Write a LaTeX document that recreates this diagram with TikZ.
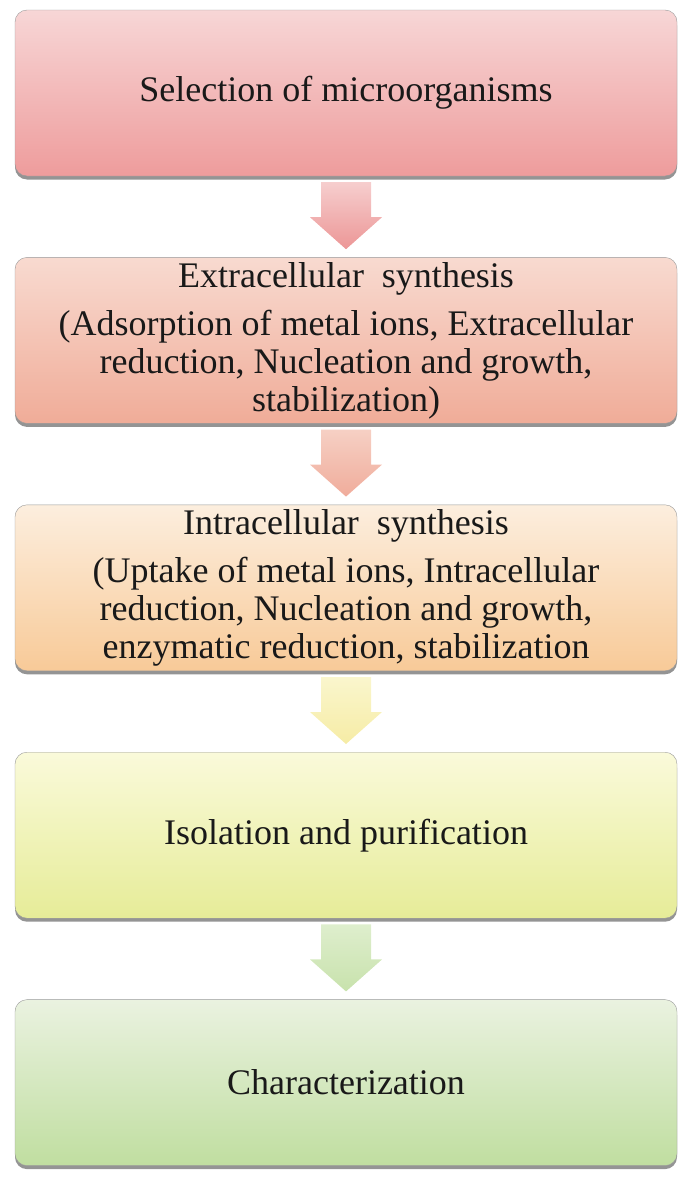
\documentclass[tikz,border=0pt]{standalone}
\usepackage{fontspec}
\setmainfont{Liberation Serif}
\usetikzlibrary{positioning}
\usetikzlibrary{calc}
\usetikzlibrary{shadows}

\definecolor{selTop}{RGB}{247,214,214}
\definecolor{selBot}{RGB}{238,156,156}
\definecolor{extTop}{RGB}{248,218,208}
\definecolor{extBot}{RGB}{240,172,152}
\definecolor{intTop}{RGB}{252,238,222}
\definecolor{intBot}{RGB}{248,202,152}
\definecolor{isoTop}{RGB}{250,250,218}
\definecolor{isoBot}{RGB}{230,236,152}
\definecolor{chaTop}{RGB}{234,242,224}
\definecolor{chaBot}{RGB}{192,222,160}

\tikzset{
  mystep/.style={
    draw=black!40,
    shape=rectangle,
    rounded corners=12pt,
    align=center,
    minimum width=662pt,
    minimum height=166pt,
    inner sep=4pt,
    text=black!90,
    font=\fontsize{36}{38}\selectfont,
    drop shadow={shadow xshift=0pt, shadow yshift=-3.5pt, opacity=0.6, fill=black!70},
  },
  myarrow/.style={
    draw=none,
  },
}

\begin{document}
\begin{tikzpicture}[x=1pt, y=-1pt]
    \useasboundingbox (0,0) rectangle (685,1183);

    \node[mystep, top color=selTop, bottom color=selBot] (selection) at (346,93) {Selection of microorganisms};
    \node[mystep, top color=extTop, bottom color=extBot] (extracellular) [below=81pt of selection] {Extracellular\ \ synthesis\\[10pt](Adsorption of metal ions, Extracellular\\reduction, Nucleation and growth,\\stabilization)};
    \node[mystep, top color=intTop, bottom color=intBot] (intracellular) [below=81pt of extracellular] {Intracellular\ \ synthesis\\[10pt](Uptake of metal ions, Intracellular\\reduction, Nucleation and growth,\\enzymatic reduction, stabilization};
    \node[mystep, top color=isoTop, bottom color=isoBot] (isolation) [below=81pt of intracellular] {Isolation and purification};
    \node[mystep, top color=chaTop, bottom color=chaBot] (characterization) [below=81pt of isolation] {Characterization};

    % block arrows between the steps
    \shade[myarrow, top color={rgb,255:red,246;green,206;blue,206}, bottom color={rgb,255:red,236;green,150;blue,150}]
      ($(selection.south)+(-25,6)$) -- ($(selection.south)+(25,6)$) -- ($(extracellular.north)+(25,-40)$) -- ($(extracellular.north)+(36,-40)$)
      -- ($(extracellular.north)+(0,-8)$) -- ($(extracellular.north)+(-36,-40)$) -- ($(extracellular.north)+(-25,-40)$) -- cycle;
    \shade[myarrow, top color={rgb,255:red,246;green,208;blue,196}, bottom color={rgb,255:red,240;green,172;blue,155}]
      ($(extracellular.south)+(-25,6)$) -- ($(extracellular.south)+(25,6)$) -- ($(intracellular.north)+(25,-40)$) -- ($(intracellular.north)+(36,-40)$)
      -- ($(intracellular.north)+(0,-8)$) -- ($(intracellular.north)+(-36,-40)$) -- ($(intracellular.north)+(-25,-40)$) -- cycle;
    \shade[myarrow, top color={rgb,255:red,250;green,246;blue,205}, bottom color={rgb,255:red,246;green,236;blue,165}]
      ($(intracellular.south)+(-25,6)$) -- ($(intracellular.south)+(25,6)$) -- ($(isolation.north)+(25,-40)$) -- ($(isolation.north)+(36,-40)$)
      -- ($(isolation.north)+(0,-8)$) -- ($(isolation.north)+(-36,-40)$) -- ($(isolation.north)+(-25,-40)$) -- cycle;
    \shade[myarrow, top color={rgb,255:red,222;green,238;blue,205}, bottom color={rgb,255:red,200;green,226;blue,172}]
      ($(isolation.south)+(-25,6)$) -- ($(isolation.south)+(25,6)$) -- ($(characterization.north)+(25,-40)$) -- ($(characterization.north)+(36,-40)$)
      -- ($(characterization.north)+(0,-8)$) -- ($(characterization.north)+(-36,-40)$) -- ($(characterization.north)+(-25,-40)$) -- cycle;
\end{tikzpicture}
\end{document}
